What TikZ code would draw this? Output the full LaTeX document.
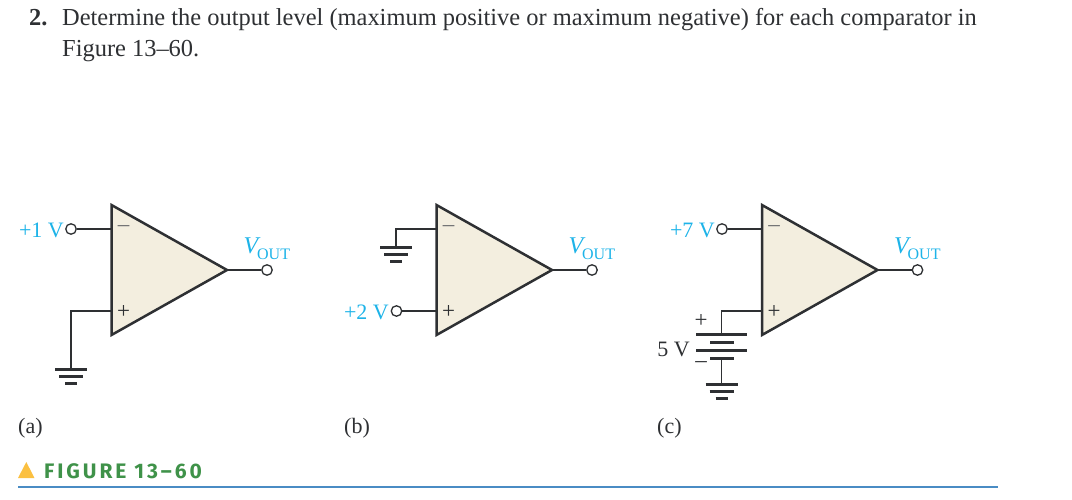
\documentclass[tikz,border=0pt]{standalone}
\usepackage{fontspec}
\setmainfont{Liberation Serif}
\newfontfamily\figfont{Fira Sans}[Scale=1]
\definecolor{cyn}{HTML}{1DB3E8}
\definecolor{ink}{HTML}{2E3033}
\definecolor{tan}{HTML}{F3EEDF}
\definecolor{grn}{HTML}{3F9249}
\definecolor{rulec}{HTML}{4A8CC4}
\definecolor{amb}{HTML}{FBC041}
\tikzset{
 x=1pt,y=-1pt,
 opamp/.style={draw=ink,fill=tan,line width=2.5pt,line join=miter},
 wire/.style={draw=ink,line width=1.5pt},
 bar/.style={draw=ink,line width=3pt},
 term/.style={circle,draw=ink,fill=white,line width=1.3pt,minimum size=10.5pt,inner sep=0pt},
 vlab/.style={text=cyn,font=\fontsize{22}{24}\selectfont,inner sep=0pt},
 blk/.style={text=ink,font=\fontsize{22}{24}\selectfont,inner sep=0pt},
 sgn/.style={text=ink,font=\fontsize{23}{24}\selectfont,inner sep=0pt},
 body/.style={text=ink,font=\fontsize{24.43}{28}\selectfont,inner sep=0pt,anchor=base west},
}
\newcommand{\gnd}[3]{% name, x, y
 \coordinate (#1) at (#2,#3);
 \draw[bar] ($(#1)+(-16,0)$) -- ($(#1)+(16,0)$);
 \draw[bar] ($(#1)+(-12,7)$) -- ($(#1)+(12,7)$);
 \draw[bar] ($(#1)+(-6,14)$) -- ($(#1)+(6,14)$);
}
\newcommand{\amp}[2]{% prefix, left x
 \coordinate (#1tl) at (#2,205);
 \coordinate (#1bl) at (#2,335);
 \coordinate (#1out) at ($(#2,270)+(115.5,0)$);
 \coordinate (#1m) at (#2,229);
 \coordinate (#1p) at (#2,311);
 \draw[opamp] (#1tl) -- (#1out) -- (#1bl) -- cycle;
 \node[term] (#1o) at ($(#1out)+(40,0)$) {};
 \draw[wire] (#1out) -- (#1o);
 \node[sgn,text=ink!70] (#1ms) at ($(#1m)+(12,0)$) {–};
 \node[sgn] (#1ps) at ($(#1p)+(12,1)$) {+};
 \node[vlab,anchor=base west] (#1v) at ($(#1out)+(16.5,-17)$) {{\fontsize{24}{24}\selectfont\textit{V}}\kern-3.5pt\raisebox{-6.5pt}{\fontsize{16}{18}\selectfont OUT}};
}
\usetikzlibrary{calc}
\begin{document}
\begin{tikzpicture}
\useasboundingbox (0,0) rectangle (1072,500);
\node[body,font=\fontsize{24.43}{28}\selectfont\bfseries] (qn) at (29,26) {2.};
\node[body] (q1) at (62,26) {Determine the output level (maximum positive or maximum negative) for each comparator in};
\node[body] (q2) at (62,57) {Figure 13–60.};
% (a)
\amp{a}{111.5}
\node[term] (ain) at (71,229) {};
\draw[wire] (ain) -- (am);
\node[vlab,anchor=base east] (al) at (64,237) {+1 V};
\coordinate (ac) at (71,311);
\gnd{ag}{71}{369}
\draw[wire] (ap) -- (ac) -- (ag);
\node[blk,anchor=base west] (acap) at (18,433) {(a)};
% (b)
\amp{b}{436.5}
\node[term] (bin) at (396.5,311) {};
\draw[wire] (bin) -- (bp);
\node[vlab,anchor=base east] (bl) at (389,319) {+2 V};
\coordinate (bc) at (396,229);
\gnd{bg}{396}{247}
\draw[wire] (bm) -- (bc) -- (bg);
\node[blk,anchor=base west] (bcap) at (344,433) {(b)};
% (c)
\amp{c}{762}
\node[term] (cin) at (722,229) {};
\draw[wire] (cin) -- (cm);
\node[vlab,anchor=base east] (cl) at (715,237) {+7 V};
\coordinate (cc) at (721.5,311);
\coordinate (cb1) at (721.5,334);
\coordinate (cb4) at (721.5,358);
\gnd{cg}{721.5}{384}
\draw[wire] (cp) -- (cc) -- (cb1);
\draw[wire] (cb4) -- (cg);
\draw[bar] (696,334) -- (747,334);
\draw[bar] (710,342) -- (734,342);
\draw[bar] (696,350) -- (747,350);
\draw[bar] (710,358) -- (734,358);
\node[sgn] (cplus) at (701,321) {+};
\node[sgn] (cminus) at (701,365) {–};
\node[blk,anchor=base east] (cv) at (690,356) {5 V};
\node[blk,anchor=base west] (ccap) at (657,433) {(c)};
% caption
\fill[amb] (18,478) -- (34.5,478) -- (26.3,462) -- cycle;
\node[inner sep=0pt,anchor=base west,text=grn,font=\figfont\bfseries\fontsize{21}{22}\selectfont] (figc) at (44,478) {\addfontfeature{LetterSpace=14}FIGURE 13–60};
\coordinate (r1) at (18,487);
\coordinate (r2) at (998,487);
\draw[rulec,line width=1.4pt] (r1) -- (r2);
\end{tikzpicture}
\end{document}
